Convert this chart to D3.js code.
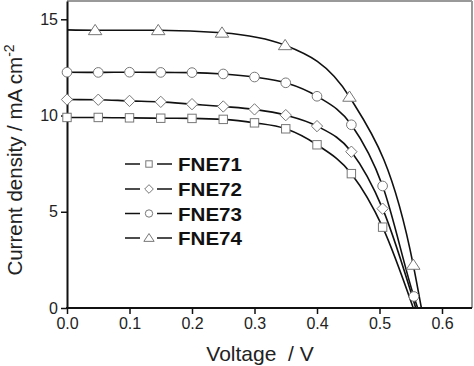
<!DOCTYPE html>
<html><head><meta charset="utf-8">
<script src="https://cdn.jsdelivr.net/npm/d3@7"></script>
<style>body{margin:0;background:#fff}svg{display:block}</style>
</head><body>
<script>
const seriesNames = ["FNE71","FNE72","FNE73","FNE74"];
const markerTypes = ["square","diamond","circle","triangle"];
// marker points (voltage V, current density mA cm-2)
const fne71V = [0,0.05,0.10,0.15,0.20,0.25,0.30,0.35,0.40,0.455,0.505];
const fne71J = [9.90,9.90,9.88,9.86,9.85,9.80,9.62,9.31,8.48,6.98,4.20];
const fne72V = [0,0.05,0.10,0.15,0.20,0.25,0.30,0.35,0.40,0.455,0.505];
const fne72J = [10.83,10.82,10.76,10.71,10.59,10.47,10.32,10.02,9.45,8.12,5.16];
const fne73V = [0,0.05,0.10,0.15,0.20,0.25,0.30,0.35,0.40,0.455,0.505,0.555];
const fne73J = [12.25,12.24,12.25,12.24,12.23,12.16,12.00,11.70,11.00,9.52,6.34,0.60];
const fne74V = [0.045,0.146,0.248,0.349,0.452,0.554];
const fne74J = [14.43,14.43,14.30,13.65,10.97,2.24];
// line end points (short-circuit start and open-circuit voltage)
const lineStartJ = [9.90,10.85,12.25,14.45];
const vocV = [0.554,0.558,0.561,0.567];
const xTicks = [0,0.1,0.2,0.3,0.4,0.5,0.6];
const yTicks = [0,5,10,15];

const W=474,H=366;
const m={l:67,t:1,r:472,b:308};
const x=d3.scaleLinear().domain([0,0.648]).range([m.l,m.r]);
const y=d3.scaleLinear().domain([0,15.95]).range([m.b,m.t]);
const svg=d3.select("body").append("svg").attr("width",W).attr("height",H);
const font="Liberation Sans, Arial, sans-serif";

// frame top/right (gray)
svg.append("line").attr("x1",m.l).attr("x2",m.r).attr("y1",m.t).attr("y2",m.t).attr("stroke","#999").attr("stroke-width",2);
svg.append("line").attr("x1",m.r).attr("x2",m.r).attr("y1",m.t).attr("y2",m.b).attr("stroke","#999").attr("stroke-width",2);

const xa=svg.append("g").attr("transform",`translate(0,${m.b})`)
  .call(d3.axisBottom(x).tickValues(xTicks).tickFormat(d3.format(".1f")).tickSizeInner(6).tickSizeOuter(0).tickPadding(4));
const ya=svg.append("g").attr("transform",`translate(${m.l},0)`)
  .call(d3.axisLeft(y).tickValues(yTicks).tickSizeInner(6).tickSizeOuter(0).tickPadding(3));
[xa,ya].forEach(a=>{
  a.select(".domain").attr("stroke","#111").attr("stroke-width",2);
  a.selectAll(".tick line").attr("stroke","#111").attr("stroke-width",1.5);
  a.selectAll("text").attr("font-family",font).attr("font-size",16).attr("fill","#222");
});
xa.select(".domain").attr("d",`M${m.l-1},0H${m.r}`);

const series=[[fne71V,fne71J],[fne72V,fne72J],[fne73V,fne73J],[fne74V,fne74J]];
const line=d3.line().x(d=>x(d[0])).y(d=>y(d[1])).curve(d3.curveMonotoneX);
svg.append("clipPath").attr("id","c").append("rect").attr("x",m.l).attr("y",m.t).attr("width",m.r-m.l).attr("height",m.b-m.t);

function marker(g,type,cx,cy,s,col){
  if(type==="square") g.append("rect").attr("x",cx-s).attr("y",cy-s).attr("width",2*s).attr("height",2*s).attr("fill","#fff").attr("stroke",col);
  else if(type==="circle") g.append("circle").attr("cx",cx).attr("cy",cy).attr("r",s*1.15).attr("fill","#fff").attr("stroke",col);
  else if(type==="diamond"){const r=s*1.35;g.append("path").attr("d",`M${cx},${cy-r}L${cx+r},${cy}L${cx},${cy+r}L${cx-r},${cy}Z`).attr("fill","#fff").attr("stroke",col);}
  else {const r=s*1.4;g.append("path").attr("d",`M${cx},${cy-r}L${cx+r*1.15},${cy+r*0.75}L${cx-r*1.15},${cy+r*0.75}Z`).attr("fill","#fff").attr("stroke",col);}
}

series.forEach((s,i)=>{
  const pts=s[0].map((v,k)=>[v,s[1][k]]);
  const lp=(s[0][0]>0?[[0,lineStartJ[i]]]:[]).concat(pts).concat([[vocV[i],0]]);
  svg.append("path").attr("d",line(lp)).attr("fill","none").attr("stroke","#111").attr("stroke-width",1.6).attr("clip-path","url(#c)");
});
series.forEach((s,i)=>{
  const g=svg.append("g");
  s[0].forEach((v,k)=>marker(g,markerTypes[i],x(v),y(s[1][k]),4.2,"#777"));
});

// legend
const ly=[164,189,213.5,238];
seriesNames.forEach((n,i)=>{
  const g=svg.append("g");
  g.append("line").attr("x1",125).attr("x2",140).attr("y1",ly[i]).attr("y2",ly[i]).attr("stroke","#111").attr("stroke-width",1.5);
  g.append("line").attr("x1",157).attr("x2",172).attr("y1",ly[i]).attr("y2",ly[i]).attr("stroke","#111").attr("stroke-width",1.5);
  marker(g,markerTypes[i],149,ly[i],3.2,"#777");
  g.append("text").attr("x",178).attr("y",ly[i]+7).text(n).attr("font-family",font).attr("font-weight","bold").attr("font-size",19)
    .attr("textLength",64).attr("lengthAdjust","spacingAndGlyphs").attr("fill","#111");
});

// axis titles
svg.append("text").attr("x",260).attr("y",361).attr("text-anchor","middle").attr("font-family",font).attr("font-size",21).attr("fill","#222").attr("xml:space","preserve").text("Voltage  / V");
const yt=svg.append("text").attr("transform","translate(22,160) rotate(-90)").attr("text-anchor","middle").attr("font-family",font).attr("font-size",20.5).attr("fill","#222");
yt.append("tspan").text("Current density / mA cm");
yt.append("tspan").attr("dy",-8).attr("font-size",14).text("-2");
</script>
</body></html>
